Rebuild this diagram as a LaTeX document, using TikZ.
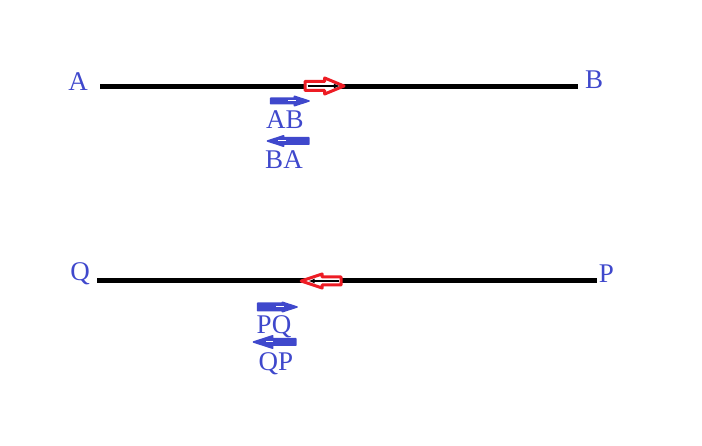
\documentclass[tikz,border=0pt]{standalone}
\usepackage{fontspec}
\setmainfont{Liberation Serif}
\usetikzlibrary{shapes.arrows,arrows.meta,calc}
\definecolor{penblue}{RGB}{63,72,204}
\definecolor{penred}{RGB}{237,28,36}
\tikzset{
	seg/.style={line width=5pt},
	lbl/.style={text=penblue,font=\fontsize{27}{27}\selectfont,inner sep=0pt,anchor=base},
	redarr/.style={single arrow,draw=penred,fill=white,line width=3pt,line join=round,inner xsep=0pt,single arrow head indent=0pt},
	bluearr/.style={single arrow,draw=penblue,fill=penblue,line width=1.5pt,line join=round,inner xsep=0pt,single arrow tip angle=36},
	thinarr/.style={black,-{Latex[length=6pt,width=5pt]},line width=1.5pt},
	gleam/.style={white,line width=1pt},
}

\begin{document}
\begin{tikzpicture}[x=1pt,y=-1pt]
	\useasboundingbox (0,0) rectangle (702,446);
	% first segment
	\coordinate (a) at (100,87);
	\coordinate (b) at (578,87);
	\node[lbl] (A) at (78,91) {A};
	\node[lbl] (B) at (594,89) {B};
	\draw[seg] (a) -- (b);
	\node[redarr,minimum height=39pt,inner ysep=3pt,single arrow head extend=3.5pt,single arrow tip angle=45,anchor=tail] (rab) at (303.5,86) {};
	\draw[thinarr] ($(rab.tail)+(4,0)$) -- ($(rab.tip)+(-8,0)$);
	\node[bluearr,minimum height=38.5pt,inner ysep=2pt,single arrow head extend=2pt,anchor=tail] (vab) at (269.8,101) {};
	\draw[gleam] ($(vab.tail)!0.44!(vab.tip)$) -- ($(vab.tail)!0.63!(vab.tip)$);
	\node[lbl] (AB) at (285,129) {AB};
	\node[bluearr,minimum height=41.5pt,inner ysep=2.5pt,single arrow head extend=2pt,shape border rotate=180,anchor=tip] (vba) at (265,141) {};
	\draw[gleam] ($(vba.tail)!0.52!(vba.tip)$) -- ($(vba.tail)!0.70!(vba.tip)$);
	\node[lbl] (BA) at (284,169) {BA};
	% second segment
	\coordinate (q) at (97,281);
	\coordinate (p) at (597,281);
	\node[lbl] (Q) at (80,281) {Q};
	\node[lbl] (P) at (606.5,283) {P};
	\draw[seg] (q) -- (p);
	\node[redarr,minimum height=40pt,inner ysep=2.5pt,single arrow head extend=3pt,single arrow tip angle=37,shape border rotate=180,anchor=tip] (rqp) at (296.5,281) {};
	\draw[thinarr] ($(rqp.tail)+(-4,0)$) -- ($(rqp.tip)+(12,0)$);
	\node[bluearr,minimum height=39.5pt,inner ysep=3pt,single arrow head extend=1pt,anchor=tail] (vpq) at (256.8,307) {};
	\draw[gleam] ($(vpq.tail)!0.45!(vpq.tip)$) -- ($(vpq.tail)!0.64!(vpq.tip)$);
	\node[lbl] (PQ) at (274,334) {PQ};
	\node[bluearr,minimum height=42.5pt,inner ysep=2.5pt,single arrow head extend=3pt,shape border rotate=180,anchor=tip] (vqp) at (251,342) {};
	\draw[gleam] ($(vqp.tail)!0.51!(vqp.tip)$) -- ($(vqp.tail)!0.67!(vqp.tip)$);
	\node[lbl] (QP) at (276,371) {QP};
\end{tikzpicture}
\end{document}
